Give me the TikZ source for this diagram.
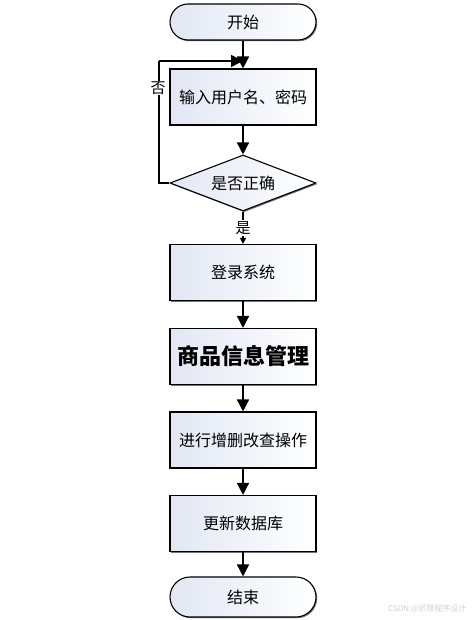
\documentclass[tikz,border=0pt]{standalone}
\usepackage{fontspec}
\newfontfamily\cjk{Noto Sans CJK SC}
\usetikzlibrary{arrows.meta,shapes.geometric,shadows}
\begin{document}
\begin{tikzpicture}[x=1pt,y=-1pt,
  base/.style={draw=black, line width=1.1pt, left color={rgb,255:red,226;green,231;blue,244}, right color=white,
    drop shadow={shadow xshift=1.2pt, shadow yshift=-1.2pt, opacity=0.55, fill=black},
    font=\cjk\fontsize{16}{18}\selectfont, inner sep=0pt},
  procbox/.style={base, rectangle, minimum width=146pt, minimum height=56pt},
  termbox/.style={base, rectangle, rounded corners=18pt, minimum width=146pt, minimum height=36pt},
  decbox/.style={base, diamond, aspect=2.6, minimum width=146pt, minimum height=56pt},
  flow/.style={line width=1.5pt, -{Triangle[width=12pt,length=12pt]}},
  lbl/.style={font=\cjk\fontsize{15}{17}\selectfont, inner sep=1pt}
]
\useasboundingbox (0,0) rectangle (474,620);
\node[termbox] (start) at (243,22) {开始};
\node[procbox] (input) at (243,97) {输入用户名、密码};
\node[decbox] (check) at (243,183) {是否正确};
\node[procbox] (login) at (243,272.5) {登录系统};
\node[procbox, font=\cjk\bfseries\fontsize{22}{24}\selectfont] (goods) at (243,356.5) {商品信息管理};
\node[procbox] (crud) at (243,440) {进行增删改查操作};
\node[procbox] (update) at (243,523.5) {更新数据库};
\node[termbox, minimum height=40pt, rounded corners=20pt] (stop) at (243,597) {结束};

\coordinate (loopA) at (159,183);
\coordinate (loopB) at (159,61);
\coordinate (loopC) at (243,61);

\draw[flow] (start) -- (input);
\draw[flow] (input) -- (check);
\draw[line width=1.5pt] (check.west) -- (loopA) -- (loopB);
\draw[flow] (loopB) -- (loopC);
\node[lbl, fill=white] (no) at (158,88) {否};
\draw[line width=1.2pt, -{Triangle[width=6pt,length=6pt]}] (check.south) -- (login.north);
\node[lbl, fill=white] (yes) at (243,228) {是};
\draw[flow] (login) -- (goods);
\draw[flow] (goods) -- (crud);
\draw[flow] (crud) -- (update);
\draw[flow] (update) -- (stop);
\node[font=\cjk\fontsize{8}{9}\selectfont, text=black!18, anchor=east] (wm) at (470,609) {CSDN @迟限程序设计};
\end{tikzpicture}
\end{document}
